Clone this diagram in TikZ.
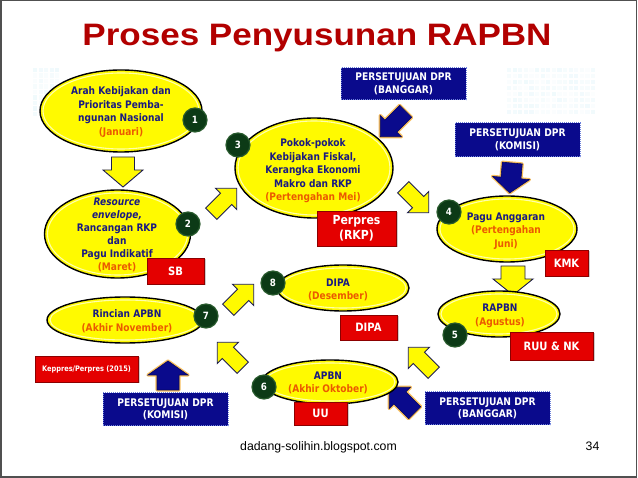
\documentclass[tikz,border=0pt]{standalone}
\usepackage{fontspec}
\usetikzlibrary{shapes.geometric,shadows}
\newfontfamily\tah[FakeStretch=0.87]{DejaVu Sans}
\newfontfamily\arialf{Liberation Sans}
\newfontfamily\titlef[FakeStretch=1.13]{Liberation Sans}
\definecolor{navytxt}{RGB}{25,25,130}
\definecolor{orgtxt}{RGB}{235,90,0}
\definecolor{ellyellow}{RGB}{255,250,0}
\definecolor{ellrim}{RGB}{255,255,170}
\definecolor{redfill}{RGB}{228,0,0}
\definecolor{reddraw}{RGB}{140,0,0}
\definecolor{bluefill}{RGB}{10,10,140}
\definecolor{bluedot}{RGB}{110,130,220}
\definecolor{badgegreen}{RGB}{12,58,22}
\definecolor{badgerim}{RGB}{40,90,45}
\definecolor{arrline}{RGB}{30,30,80}
\definecolor{glow}{RGB}{245,170,40}
\definecolor{titlered}{RGB}{178,0,0}
\definecolor{framegray}{RGB}{80,80,80}
\definecolor{deco}{RGB}{120,210,235}
\newcommand\blockarrow[8]{%
  \path[#8, shift={(#1,#2)}, rotate=#3]
    (-#4/2,-#7) -- (#4/2-#5,-#7) -- (#4/2-#5,-#6) -- (#4/2,0)
    -- (#4/2-#5,#6) -- (#4/2-#5,#7) -- (-#4/2,#7) -- cycle;}
\begin{document}
\begin{tikzpicture}[x=1pt,y=-1pt,
  ell/.style={ellipse, draw=black, line width=1.4, fill=ellyellow, inner sep=0},
  ellin/.style={ellipse, draw=ellrim, line width=1.1, inner sep=0},
  etxt/.style={text=navytxt, font=\tah\bfseries\fontsize{10.4}{13.5}\selectfont, align=center, inner sep=0},
  badge/.style={circle, fill=badgegreen, draw=badgerim, line width=1.2, minimum size=24, inner sep=0, text=white, font=\tah\bfseries\fontsize{10}{10}\selectfont},
  redbox/.style={rectangle, fill=redfill, draw=reddraw, line width=0.8, inner sep=0, text=white, drop shadow={shadow xshift=1.5pt, shadow yshift=-1.5pt, opacity=0.4}, font=\tah\bfseries\fontsize{11.5}{13.5}\selectfont, align=center},
  bluebox/.style={rectangle, fill=bluefill, draw=bluedot, line width=1, densely dotted, inner sep=0, text=white, font=\tah\bfseries\fontsize{10.5}{12.5}\selectfont, align=center},
  yarr/.style={fill=ellyellow, draw=arrline, line width=0.9, line join=miter},
  barr/.style={fill=bluefill, draw=bluefill!70!black, line width=0.6, line join=miter},
  barrglow/.style={draw=glow, line width=3.2, opacity=0.75, line join=round}
]
\useasboundingbox (0,0) rectangle (638,478);
\fill[white] (0,0) rectangle (638,478);
\draw[framegray, line width=1.5] (0.75,0.75) rectangle (636.5,477);

% decorative squares
\pgfmathsetseed{7}
\foreach \i in {0,...,4}{\foreach \j in {0,...,8}{%
  \pgfmathsetmacro\op{0.02+0.1*rnd}
  \fill[deco, opacity=\op] (33+\i*5.5, 68+\j*5.5) rectangle +(4.2,4.2);}}
\foreach \i in {0,...,15}{\foreach \j in {0,...,7}{%
  \pgfmathsetmacro\op{0.02+0.09*rnd}
  \fill[deco, opacity=\op] (507+\i*5.6, 68+\j*6) rectangle +(4.2,4.2);}}

% title
\node[anchor=base, text=titlered, font=\titlef\bfseries\fontsize{31}{31}\selectfont, inner sep=0] (title) at (317,46) {Proses Penyusunan RAPBN};

% yellow block arrows
\blockarrow{123}{172}{-90}{30}{17}{20}{11.5}{yarr}
\blockarrow{513}{280.5}{-90}{29}{16}{20}{12}{yarr}
\blockarrow{224}{201}{45}{36}{15}{15}{8}{yarr}
\blockarrow{416}{200}{-45}{36}{15}{15}{8}{yarr}
\blockarrow{421}{360}{135}{36}{15}{15}{8}{yarr}
\blockarrow{230}{355}{135}{36}{15}{15}{8}{yarr}
\blockarrow{241}{297}{45}{36}{15}{15}{8}{yarr}

% blue block arrows with glow
\blockarrow{393}{124}{225}{36}{15}{15}{8.5}{barrglow}
\blockarrow{393}{124}{225}{36}{15}{15}{8.5}{barr}
\blockarrow{402}{400}{135}{36}{15}{15}{8.5}{barrglow}
\blockarrow{402}{400}{135}{36}{15}{15}{8.5}{barr}
\blockarrow{168}{375.5}{90}{29}{14}{20}{11}{barrglow}
\blockarrow{168}{375.5}{90}{29}{14}{20}{11}{barr}
\blockarrow{511}{178}{-95}{30}{15}{18.5}{10}{barrglow}
\blockarrow{511}{178}{-95}{30}{15}{18.5}{10}{barr}

% ellipses
\node[ell, minimum width=162, minimum height=82] (e1) at (121,111) {};
\node[ellin, minimum width=156, minimum height=76] (e1i) at (e1.center) {};
\node[ell, minimum width=146, minimum height=88] (e2) at (117.5,234) {};
\node[ellin, minimum width=140, minimum height=82] (e2i) at (e2.center) {};
\node[ell, minimum width=158, minimum height=100] (e3) at (314,168) {};
\node[ellin, minimum width=152, minimum height=94] (e3i) at (e3.center) {};
\node[ell, minimum width=140, minimum height=66] (e4) at (507,229) {};
\node[ellin, minimum width=134, minimum height=60] (e4i) at (e4.center) {};
\node[ell, minimum width=122, minimum height=46] (e5) at (499,314) {};
\node[ellin, minimum width=116, minimum height=40] (e5i) at (e5.center) {};
\node[ell, minimum width=136, minimum height=44] (e6) at (330,382) {};
\node[ellin, minimum width=130, minimum height=38] (e6i) at (e6.center) {};
\node[ell, minimum width=156, minimum height=46] (e7) at (125,320) {};
\node[ellin, minimum width=150, minimum height=40] (e7i) at (e7.center) {};
\node[ell, minimum width=132, minimum height=46] (e8) at (343,288) {};
\node[ellin, minimum width=126, minimum height=40] (e8i) at (e8.center) {};

% ellipse texts
\node[etxt] (t1) at (121,112) {Arah Kebijakan dan\\Prioritas Pemba-\\ngunan Nasional\\\textcolor{orgtxt}{(Januari)}};
\node[etxt, font=\tah\bfseries\fontsize{10.4}{13}\selectfont] (t2) at (117,235) {\itshape Resource\\\itshape envelope,\\Rancangan RKP\\dan\\Pagu Indikatif\\\textcolor{orgtxt}{(Maret)}};
\node[etxt] (t3) at (313,171) {Pokok-pokok\\Kebijakan Fiskal,\\Kerangka Ekonomi\\Makro dan RKP\\\textcolor{orgtxt}{(Pertengahan Mei)}};
\node[etxt] (t4) at (506,231) {Pagu Anggaran\\\textcolor{orgtxt}{(Pertengahan}\\\textcolor{orgtxt}{Juni)}};
\node[etxt] (t5) at (500,316) {RAPBN\\\textcolor{orgtxt}{(Agustus)}};
\node[etxt] (t6) at (328,383) {APBN\\\textcolor{orgtxt}{(Akhir Oktober)}};
\node[etxt] (t7) at (127,321) {Rincian APBN\\\textcolor{orgtxt}{(Akhir November)}};
\node[etxt] (t8) at (338,290) {DIPA\\\textcolor{orgtxt}{(Desember)}};

% badges
\node[badge] (b1) at (195,120) {1};
\node[badge] (b2) at (188,224) {2};
\node[badge] (b3) at (238,145) {3};
\node[badge] (b4) at (449,212) {4};
\node[badge] (b5) at (455,335) {5};
\node[badge] (b6) at (264,387) {6};
\node[badge] (b7) at (206,316) {7};
\node[badge] (b8) at (273,283) {8};

% red boxes
\node[redbox, minimum width=57, minimum height=26] (sb) at (175.5,271) {SB};
\node[redbox, minimum width=79, minimum height=35, font=\tah\bfseries\fontsize{12.5}{14.5}\selectfont] (perpres) at (356.5,228.5) {Perpres\\(RKP)};
\node[redbox, minimum width=43, minimum height=26] (kmk) at (566.5,263) {KMK};
\node[redbox, minimum width=57, minimum height=25] (dipa) at (368.5,327.5) {DIPA};
\node[redbox, minimum width=83, minimum height=28] (ruu) at (551.5,346) {RUU \& NK};
\node[redbox, minimum width=53, minimum height=23] (uu) at (320.5,413.5) {UU};
\node[redbox, minimum width=103, minimum height=26, font=\tah\bfseries\fontsize{7.6}{9}\selectfont] (keppres) at (86.5,369) {Keppres/Perpres (2015)};

% blue boxes
\node[bluebox, minimum width=125, minimum height=32] (bt) at (403.5,84) {PERSETUJUAN DPR\\(BANGGAR)};
\node[bluebox, minimum width=125, minimum height=34] (br) at (517.5,140) {PERSETUJUAN DPR\\(KOMISI)};
\node[bluebox, minimum width=125, minimum height=33] (bl) at (165.5,409.5) {PERSETUJUAN DPR\\(KOMISI)};
\node[bluebox, minimum width=125, minimum height=33] (bb) at (487.5,408.5) {PERSETUJUAN DPR\\(BANGGAR)};

% footer
\node[anchor=base, font=\arialf\fontsize{12.3}{14}\selectfont, inner sep=0] (foot) at (318.5,451) {dadang-solihin.blogspot.com};
\node[anchor=base, font=\arialf\fontsize{12.3}{14}\selectfont, inner sep=0] (pg) at (592.5,451) {34};
\end{tikzpicture}
\end{document}
